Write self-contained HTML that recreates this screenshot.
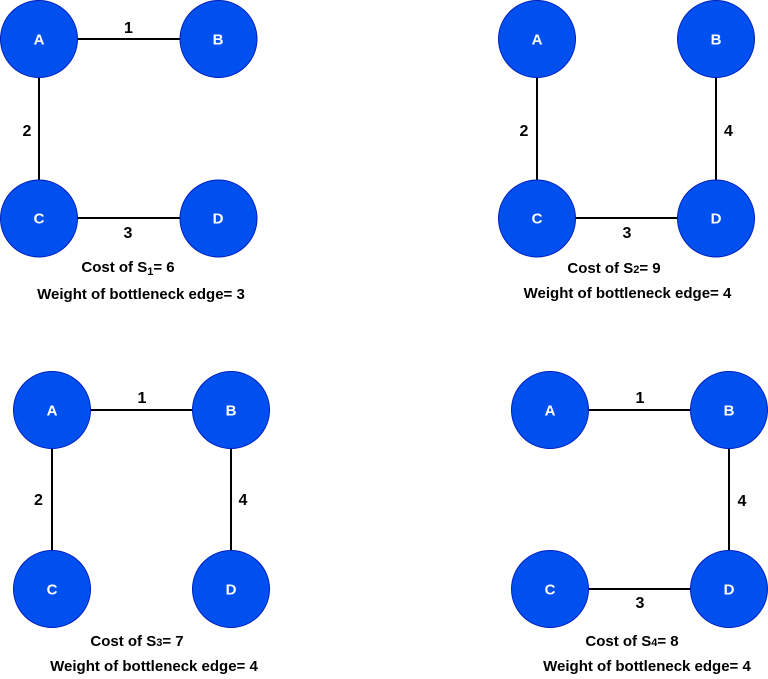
<!DOCTYPE html>
<html>
<head>
<meta charset="utf-8">
<style>
html,body{margin:0;padding:0;background:#fff;}
svg{display:block;}
text{font-family:"Liberation Sans",Arial,sans-serif;font-weight:bold;}
.n{fill:#fff;font-size:15px;text-anchor:middle;}
.e{fill:#000;font-size:16px;text-anchor:middle;}
.c{fill:#000;font-size:15px;text-anchor:middle;}
circle{fill:#0050EF;stroke:#001DBC;stroke-width:1;}
line{stroke:#000;stroke-width:2;}
</style>
</head>
<body>
<svg width="768" height="679" viewBox="0 0 768 679" xmlns="http://www.w3.org/2000/svg">
<!-- Top-left -->
<line x1="77" y1="39" x2="180" y2="39"/>
<line x1="39" y1="77" x2="39" y2="180"/>
<line x1="77" y1="218" x2="180" y2="218"/>
<circle cx="39" cy="39" r="38.5"/>
<circle cx="218.5" cy="39" r="38.5"/>
<circle cx="39" cy="218.5" r="38.5"/>
<circle cx="218.5" cy="218.5" r="38.5"/>
<text class="n" x="39" y="44.5">A</text>
<text class="n" x="218" y="44.5">B</text>
<text class="n" x="39" y="223.5">C</text>
<text class="n" x="218" y="223.5">D</text>
<text class="e" x="128.5" y="33">1</text>
<text class="e" x="27" y="136">2</text>
<text class="e" x="128" y="238">3</text>
<text class="c" x="128" y="272">Cost of S<tspan font-size="11" dy="3">1</tspan><tspan dy="-3">= 6</tspan></text>
<text class="c" x="141" y="299">Weight of bottleneck edge= 3</text>

<!-- Top-right -->
<line x1="537" y1="77" x2="537" y2="180"/>
<line x1="716" y1="77" x2="716" y2="180"/>
<line x1="575" y1="218" x2="678" y2="218"/>
<circle cx="537" cy="39" r="38.5"/>
<circle cx="716" cy="39" r="38.5"/>
<circle cx="537" cy="218.5" r="38.5"/>
<circle cx="716" cy="218.5" r="38.5"/>
<text class="n" x="537" y="44.5">A</text>
<text class="n" x="716" y="44.5">B</text>
<text class="n" x="537" y="223.5">C</text>
<text class="n" x="716" y="223.5">D</text>
<text class="e" x="524" y="136">2</text>
<text class="e" x="728.5" y="136">4</text>
<text class="e" x="627" y="238">3</text>
<text class="c" x="614" y="273">Cost of S<tspan font-size="11">2</tspan>= 9</text>
<text class="c" x="627.5" y="298">Weight of bottleneck edge= 4</text>

<!-- Bottom-left -->
<line x1="90" y1="410" x2="193" y2="410"/>
<line x1="52" y1="448" x2="52" y2="551"/>
<line x1="231" y1="448" x2="231" y2="551"/>
<circle cx="52" cy="410" r="38.5"/>
<circle cx="231" cy="410" r="38.5"/>
<circle cx="52" cy="589" r="38.5"/>
<circle cx="231" cy="589" r="38.5"/>
<text class="n" x="52" y="415.5">A</text>
<text class="n" x="231" y="415.5">B</text>
<text class="n" x="52" y="594.5">C</text>
<text class="n" x="231" y="594.5">D</text>
<text class="e" x="142" y="403">1</text>
<text class="e" x="38.5" y="505">2</text>
<text class="e" x="243" y="505">4</text>
<text class="c" x="137" y="646">Cost of S<tspan font-size="11">3</tspan>= 7</text>
<text class="c" x="154" y="671">Weight of bottleneck edge= 4</text>

<!-- Bottom-right -->
<line x1="588" y1="410" x2="691" y2="410"/>
<line x1="729" y1="448" x2="729" y2="551"/>
<line x1="588" y1="589" x2="691" y2="589"/>
<circle cx="550" cy="410" r="38.5"/>
<circle cx="729" cy="410" r="38.5"/>
<circle cx="550" cy="589" r="38.5"/>
<circle cx="729" cy="589" r="38.5"/>
<text class="n" x="550" y="415.5">A</text>
<text class="n" x="729" y="415.5">B</text>
<text class="n" x="550" y="594.5">C</text>
<text class="n" x="729" y="594.5">D</text>
<text class="e" x="640" y="403">1</text>
<text class="e" x="742" y="506">4</text>
<text class="e" x="640" y="608">3</text>
<text class="c" x="632" y="646">Cost of S<tspan font-size="11">4</tspan>= 8</text>
<text class="c" x="647" y="671">Weight of bottleneck edge= 4</text>
</svg>
</body>
</html>
